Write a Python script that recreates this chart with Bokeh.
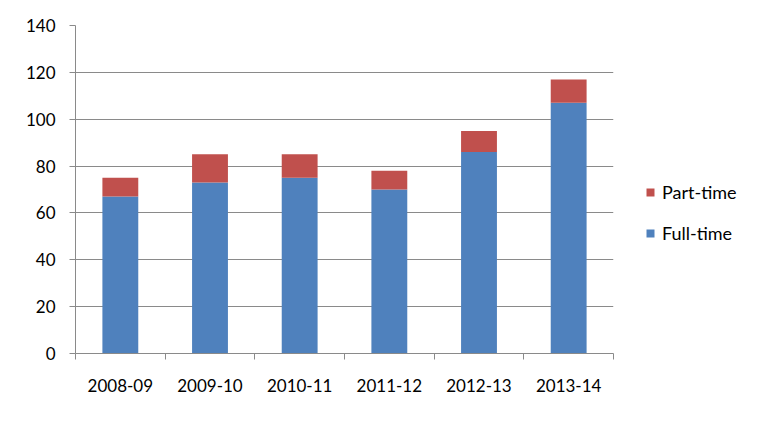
from bokeh.embed import file_html
from bokeh.models import FixedTicker, Legend, LegendItem, Range1d
from bokeh.plotting import figure
from bokeh.resources import INLINE

years = ['2008-09', '2009-10', '2010-11', '2011-12', '2012-13', '2013-14']
full_time = [67, 73, 75, 70, 86, 107]
part_time = [8, 12, 10, 8, 9, 10]

BLUE = '#4F81BD'
RED = '#C0504D'
GREY = '#8a8a8a'
FONT = 'Lato'

centers = [i + 0.5 for i in range(len(years))]
totals = [f + pt for f, pt in zip(full_time, part_time)]

p = figure(frame_width=538, frame_height=328,
           x_range=Range1d(0, len(years)),
           y_range=Range1d(0, 140),
           output_backend='svg',
           toolbar_location=None,
           min_border_left=75, min_border_right=134,
           min_border_top=25, min_border_bottom=53)
p.outline_line_color = None

ft = p.vbar(x=centers, width=0.4, bottom=0, top=full_time,
            fill_color=BLUE, line_color=None)
pt = p.vbar(x=centers, width=0.4, bottom=full_time, top=totals,
            fill_color=RED, line_color=None)

# y axis
p.yaxis.ticker = FixedTicker(ticks=list(range(0, 141, 20)))
p.yaxis.axis_line_color = GREY
p.yaxis.major_tick_line_color = GREY
p.yaxis.major_tick_in = 0
p.yaxis.major_tick_out = 6
p.yaxis.minor_tick_line_color = None
p.yaxis.major_label_standoff = 14
p.yaxis.major_label_text_font = FONT
p.yaxis.major_label_text_font_size = '17px'
p.yaxis.major_label_text_color = 'black'

# x axis: labels in the middle, ticks between the years
p.xaxis.ticker = FixedTicker(ticks=centers,
                             minor_ticks=list(range(len(years) + 1)))
p.xaxis.major_label_overrides = {c: y for c, y in zip(centers, years)}
p.xaxis.axis_line_color = GREY
p.xaxis.major_tick_line_color = None
p.xaxis.major_tick_in = 0
p.xaxis.major_tick_out = 0
p.xaxis.minor_tick_line_color = GREY
p.xaxis.minor_tick_in = 0
p.xaxis.minor_tick_out = 6
p.xaxis.major_label_standoff = 19
p.xaxis.major_label_text_font = FONT
p.xaxis.major_label_text_font_size = '17px'
p.xaxis.major_label_text_color = 'black'

p.xgrid.grid_line_color = None
p.ygrid.grid_line_color = GREY
p.ygrid.grid_line_width = 1

legend = Legend(items=[LegendItem(label='Part-time', renderers=[pt]),
                       LegendItem(label='Full-time', renderers=[ft])],
                location=(32, 109),
                glyph_width=10, glyph_height=10,
                label_height=20, spacing=19,
                label_standoff=7, padding=0, margin=0,
                border_line_color=None, background_fill_alpha=0,
                label_text_font=FONT, label_text_font_size='18px',
                label_text_color='black')
p.add_layout(legend, 'right')

open("out.html", "w").write(file_html(p, INLINE))
